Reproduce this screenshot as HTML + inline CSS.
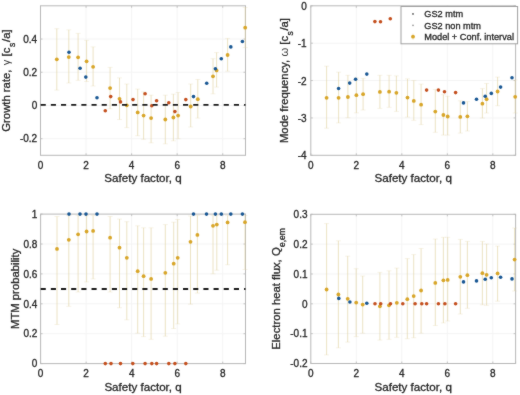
<!DOCTYPE html>
<html><head><meta charset="utf-8"><style>
html,body{margin:0;padding:0;background:#fff;width:520px;height:395px;overflow:hidden}
svg text{font-family:"Liberation Sans", sans-serif;stroke:#262626;stroke-width:0.3px;paint-order:stroke}
svg{will-change:transform}
</style></head><body>
<svg width="520" height="395" viewBox="0 0 520 395" style="display:block">
<defs><filter id="soft" x="0" y="0" width="520" height="395" filterUnits="userSpaceOnUse" color-interpolation-filters="sRGB"><feConvolveMatrix order="3" kernelMatrix="1 2 1 2 28 2 1 2 1" edgeMode="duplicate"/></filter></defs>
<g filter="url(#soft)">
<rect width="520" height="395" fill="#fff"/>
<path d="M86.06 5.80V155.30M131.61 5.80V155.30M177.17 5.80V155.30M222.72 5.80V155.30M40.50 138.69H245.50M40.50 105.47H245.50M40.50 72.24H245.50M40.50 39.02H245.50" stroke="#f4f4f4" stroke-width="1" fill="none"/>
<path d="M40.50 155.30v-2.0M40.50 5.80v2.0M86.06 155.30v-2.0M86.06 5.80v2.0M131.61 155.30v-2.0M131.61 5.80v2.0M177.17 155.30v-2.0M177.17 5.80v2.0M222.72 155.30v-2.0M222.72 5.80v2.0M245.50 155.30v-2.0M245.50 5.80v2.0M40.50 138.69h2.0M245.50 138.69h-2.0M40.50 105.47h2.0M245.50 105.47h-2.0M40.50 72.24h2.0M245.50 72.24h-2.0M40.50 39.02h2.0M245.50 39.02h-2.0" stroke="#b8b8b8" stroke-width="0.8" fill="none"/>
<rect x="40.50" y="5.80" width="205.00" height="149.50" fill="none" stroke="#b8b8b8" stroke-width="1"/>
<path d="M56.80 28.70V90.10M68.80 29.90V83.00M78.10 33.40V80.30M86.60 40.40V81.50M93.10 46.90V86.00M110.10 67.40V108.80M119.50 77.90V119.50M126.80 84.00V127.60M137.70 89.10V135.70M143.60 91.90V139.30M151.10 95.20V142.80M165.30 95.20V143.80M173.40 94.20V140.80M178.10 92.50V138.70M190.70 84.00V127.00M197.80 79.50V118.10M213.00 58.70V93.80M216.60 52.60V87.10M227.60 38.40V71.20M245.20 7.50V47.60" stroke="#e2d3a4" stroke-width="0.65" fill="none"/>
<path d="M54.30 28.70h5M54.30 90.10h5M66.30 29.90h5M66.30 83.00h5M75.60 33.40h5M75.60 80.30h5M84.10 40.40h5M84.10 81.50h5M90.60 46.90h5M90.60 86.00h5M107.60 67.40h5M107.60 108.80h5M117.00 77.90h5M117.00 119.50h5M124.30 84.00h5M124.30 127.60h5M135.20 89.10h5M135.20 135.70h5M141.10 91.90h5M141.10 139.30h5M148.60 95.20h5M148.60 142.80h5M162.80 95.20h5M162.80 143.80h5M170.90 94.20h5M170.90 140.80h5M175.60 92.50h5M175.60 138.70h5M188.20 84.00h5M188.20 127.00h5M195.30 79.50h5M195.30 118.10h5M210.50 58.70h5M210.50 93.80h5M214.10 52.60h5M214.10 87.10h5M225.10 38.40h5M225.10 71.20h5M242.70 7.50h5M242.70 47.60h5" stroke="#e2d3a4" stroke-width="0.6" fill="none" opacity="0.45"/>
<circle cx="56.80" cy="59.30" r="1.9" fill="#d8a62a"/>
<circle cx="68.80" cy="57.10" r="1.9" fill="#d8a62a"/>
<circle cx="78.10" cy="57.30" r="1.9" fill="#d8a62a"/>
<circle cx="86.60" cy="61.30" r="1.9" fill="#d8a62a"/>
<circle cx="93.10" cy="66.80" r="1.9" fill="#d8a62a"/>
<circle cx="110.10" cy="88.10" r="1.9" fill="#d8a62a"/>
<circle cx="119.50" cy="98.80" r="1.9" fill="#d8a62a"/>
<circle cx="126.80" cy="105.30" r="1.9" fill="#d8a62a"/>
<circle cx="137.70" cy="112.40" r="1.9" fill="#d8a62a"/>
<circle cx="143.60" cy="115.60" r="1.9" fill="#d8a62a"/>
<circle cx="151.10" cy="118.10" r="1.9" fill="#d8a62a"/>
<circle cx="165.30" cy="119.50" r="1.9" fill="#d8a62a"/>
<circle cx="173.40" cy="117.50" r="1.9" fill="#d8a62a"/>
<circle cx="178.10" cy="115.60" r="1.9" fill="#d8a62a"/>
<circle cx="190.70" cy="106.50" r="1.9" fill="#d8a62a"/>
<circle cx="197.80" cy="99.20" r="1.9" fill="#d8a62a"/>
<circle cx="213.00" cy="76.30" r="1.9" fill="#d8a62a"/>
<circle cx="216.60" cy="70.40" r="1.9" fill="#d8a62a"/>
<circle cx="227.60" cy="55.00" r="1.9" fill="#d8a62a"/>
<circle cx="245.20" cy="27.70" r="1.9" fill="#d8a62a"/>
<circle cx="105.30" cy="110.80" r="1.8" fill="#c4501f"/>
<circle cx="110.70" cy="96.60" r="1.8" fill="#c4501f"/>
<circle cx="120.50" cy="101.90" r="1.8" fill="#c4501f"/>
<circle cx="133.00" cy="99.60" r="1.8" fill="#c4501f"/>
<circle cx="145.10" cy="93.80" r="1.8" fill="#c4501f"/>
<circle cx="151.80" cy="105.70" r="1.8" fill="#c4501f"/>
<circle cx="156.60" cy="100.70" r="1.8" fill="#c4501f"/>
<circle cx="168.80" cy="102.70" r="1.8" fill="#c4501f"/>
<circle cx="174.90" cy="111.60" r="1.8" fill="#c4501f"/>
<circle cx="185.80" cy="99.60" r="1.8" fill="#c4501f"/>
<circle cx="69.00" cy="52.20" r="1.8" fill="#1a5894"/>
<circle cx="80.10" cy="68.20" r="1.8" fill="#1a5894"/>
<circle cx="85.80" cy="77.10" r="1.8" fill="#1a5894"/>
<circle cx="97.00" cy="97.80" r="1.8" fill="#1a5894"/>
<circle cx="193.50" cy="96.60" r="1.8" fill="#1a5894"/>
<circle cx="206.70" cy="83.30" r="1.8" fill="#1a5894"/>
<circle cx="215.40" cy="68.80" r="1.8" fill="#1a5894"/>
<circle cx="221.30" cy="58.70" r="1.8" fill="#1a5894"/>
<circle cx="230.80" cy="46.90" r="1.8" fill="#1a5894"/>
<circle cx="242.40" cy="41.50" r="1.8" fill="#1a5894"/>
<line x1="40.67" y1="104.9" x2="245.5" y2="104.9" stroke="#1a1a1a" stroke-width="1.9" stroke-dasharray="5.1 5.07"/>
<text x="40.50" y="168.50" text-anchor="middle" font-size="10" fill="#262626">0</text>
<text x="86.06" y="168.50" text-anchor="middle" font-size="10" fill="#262626">2</text>
<text x="131.61" y="168.50" text-anchor="middle" font-size="10" fill="#262626">4</text>
<text x="177.17" y="168.50" text-anchor="middle" font-size="10" fill="#262626">6</text>
<text x="222.72" y="168.50" text-anchor="middle" font-size="10" fill="#262626">8</text>
<text x="37.20" y="142.39" text-anchor="end" font-size="10" fill="#262626">-0.2</text>
<text x="37.20" y="109.17" text-anchor="end" font-size="10" fill="#262626">0</text>
<text x="37.20" y="75.94" text-anchor="end" font-size="10" fill="#262626">0.2</text>
<text x="37.20" y="42.72" text-anchor="end" font-size="10" fill="#262626">0.4</text>
<text x="143.00" y="182.30" text-anchor="middle" font-size="11.6" fill="#262626">Safety factor, q</text>
<text transform="translate(9.80 80.55) rotate(-90)" x="0" y="0" text-anchor="middle" font-size="11.3" fill="#262626">Growth rate, <tspan dx="1.2" fill="#3a3a3a" style="stroke-width:0">γ</tspan> [c<tspan font-size="8.5" dx="0.6" dy="5.3">s</tspan><tspan dx="0.8" dy="-5.3">/a]</tspan></text>
<path d="M356.31 5.80V155.30M401.82 5.80V155.30M447.33 5.80V155.30M492.84 5.80V155.30M310.80 117.93H515.60M310.80 80.55H515.60M310.80 43.18H515.60" stroke="#f4f4f4" stroke-width="1" fill="none"/>
<path d="M310.80 155.30v-2.0M310.80 5.80v2.0M356.31 155.30v-2.0M356.31 5.80v2.0M401.82 155.30v-2.0M401.82 5.80v2.0M447.33 155.30v-2.0M447.33 5.80v2.0M492.84 155.30v-2.0M492.84 5.80v2.0M515.60 155.30v-2.0M515.60 5.80v2.0M310.80 155.30h2.0M515.60 155.30h-2.0M310.80 117.93h2.0M515.60 117.93h-2.0M310.80 80.55h2.0M515.60 80.55h-2.0M310.80 43.18h2.0M515.60 43.18h-2.0M310.80 5.80h2.0M515.60 5.80h-2.0" stroke="#b8b8b8" stroke-width="0.8" fill="none"/>
<rect x="310.80" y="5.80" width="204.80" height="149.50" fill="none" stroke="#b8b8b8" stroke-width="1"/>
<path d="M326.60 66.20V128.20M338.60 72.20V122.90M347.90 75.30V117.70M356.40 77.90V112.80M363.10 78.40V110.00M379.90 75.30V108.40M389.10 75.30V107.30M396.40 75.90V111.40M407.50 78.90V117.10M413.80 80.50V120.30M421.10 84.10V124.60M435.30 89.60V132.30M443.40 94.70V135.10M447.70 96.30V135.10M460.30 100.80V133.10M467.40 101.60V131.00M482.40 88.60V118.10M486.60 83.50V113.00M497.60 77.10V105.70M515.20 80.00V113.00" stroke="#e2d3a4" stroke-width="0.65" fill="none"/>
<path d="M324.10 66.20h5M324.10 128.20h5M336.10 72.20h5M336.10 122.90h5M345.40 75.30h5M345.40 117.70h5M353.90 77.90h5M353.90 112.80h5M360.60 78.40h5M360.60 110.00h5M377.40 75.30h5M377.40 108.40h5M386.60 75.30h5M386.60 107.30h5M393.90 75.90h5M393.90 111.40h5M405.00 78.90h5M405.00 117.10h5M411.30 80.50h5M411.30 120.30h5M418.60 84.10h5M418.60 124.60h5M432.80 89.60h5M432.80 132.30h5M440.90 94.70h5M440.90 135.10h5M445.20 96.30h5M445.20 135.10h5M457.80 100.80h5M457.80 133.10h5M464.90 101.60h5M464.90 131.00h5M479.90 88.60h5M479.90 118.10h5M484.10 83.50h5M484.10 113.00h5M495.10 77.10h5M495.10 105.70h5M512.70 80.00h5M512.70 113.00h5" stroke="#e2d3a4" stroke-width="0.6" fill="none" opacity="0.45"/>
<circle cx="326.60" cy="97.80" r="1.9" fill="#d8a62a"/>
<circle cx="338.60" cy="97.80" r="1.9" fill="#d8a62a"/>
<circle cx="347.90" cy="97.00" r="1.9" fill="#d8a62a"/>
<circle cx="356.40" cy="95.20" r="1.9" fill="#d8a62a"/>
<circle cx="363.10" cy="94.20" r="1.9" fill="#d8a62a"/>
<circle cx="379.90" cy="91.90" r="1.9" fill="#d8a62a"/>
<circle cx="389.10" cy="91.70" r="1.9" fill="#d8a62a"/>
<circle cx="396.40" cy="92.80" r="1.9" fill="#d8a62a"/>
<circle cx="407.50" cy="97.60" r="1.9" fill="#d8a62a"/>
<circle cx="413.80" cy="100.90" r="1.9" fill="#d8a62a"/>
<circle cx="421.10" cy="104.70" r="1.9" fill="#d8a62a"/>
<circle cx="435.30" cy="111.60" r="1.9" fill="#d8a62a"/>
<circle cx="443.40" cy="115.00" r="1.9" fill="#d8a62a"/>
<circle cx="447.70" cy="116.50" r="1.9" fill="#d8a62a"/>
<circle cx="460.30" cy="116.90" r="1.9" fill="#d8a62a"/>
<circle cx="467.40" cy="116.30" r="1.9" fill="#d8a62a"/>
<circle cx="482.40" cy="103.70" r="1.9" fill="#d8a62a"/>
<circle cx="486.60" cy="99.20" r="1.9" fill="#d8a62a"/>
<circle cx="497.60" cy="91.50" r="1.9" fill="#d8a62a"/>
<circle cx="515.20" cy="96.80" r="1.9" fill="#d8a62a"/>
<circle cx="374.90" cy="21.60" r="1.8" fill="#c4501f"/>
<circle cx="380.50" cy="21.80" r="1.8" fill="#c4501f"/>
<circle cx="390.30" cy="18.80" r="1.8" fill="#c4501f"/>
<circle cx="402.70" cy="22.00" r="1.8" fill="#c4501f"/>
<circle cx="415.00" cy="22.00" r="1.8" fill="#c4501f"/>
<circle cx="421.60" cy="22.00" r="1.8" fill="#c4501f"/>
<circle cx="426.60" cy="90.10" r="1.8" fill="#c4501f"/>
<circle cx="438.40" cy="90.10" r="1.8" fill="#c4501f"/>
<circle cx="444.50" cy="91.70" r="1.8" fill="#c4501f"/>
<circle cx="455.60" cy="92.60" r="1.8" fill="#c4501f"/>
<circle cx="338.60" cy="88.50" r="1.8" fill="#1a5894"/>
<circle cx="349.70" cy="83.10" r="1.8" fill="#1a5894"/>
<circle cx="355.60" cy="79.30" r="1.8" fill="#1a5894"/>
<circle cx="366.80" cy="74.10" r="1.8" fill="#1a5894"/>
<circle cx="463.50" cy="102.90" r="1.8" fill="#1a5894"/>
<circle cx="476.50" cy="99.20" r="1.8" fill="#1a5894"/>
<circle cx="485.20" cy="96.20" r="1.8" fill="#1a5894"/>
<circle cx="491.30" cy="93.40" r="1.8" fill="#1a5894"/>
<circle cx="500.60" cy="87.10" r="1.8" fill="#1a5894"/>
<circle cx="512.00" cy="77.70" r="1.8" fill="#1a5894"/>
<text x="310.80" y="168.50" text-anchor="middle" font-size="10" fill="#262626">0</text>
<text x="356.31" y="168.50" text-anchor="middle" font-size="10" fill="#262626">2</text>
<text x="401.82" y="168.50" text-anchor="middle" font-size="10" fill="#262626">4</text>
<text x="447.33" y="168.50" text-anchor="middle" font-size="10" fill="#262626">6</text>
<text x="492.84" y="168.50" text-anchor="middle" font-size="10" fill="#262626">8</text>
<text x="306.70" y="159.40" text-anchor="end" font-size="10" fill="#262626">-4</text>
<text x="306.70" y="122.03" text-anchor="end" font-size="10" fill="#262626">-3</text>
<text x="306.70" y="84.65" text-anchor="end" font-size="10" fill="#262626">-2</text>
<text x="306.70" y="47.28" text-anchor="end" font-size="10" fill="#262626">-1</text>
<text x="306.70" y="9.90" text-anchor="end" font-size="10" fill="#262626">0</text>
<text x="413.20" y="182.30" text-anchor="middle" font-size="11.6" fill="#262626">Safety factor, q</text>
<text transform="translate(288.00 80.55) rotate(-90)" x="0" y="0" text-anchor="middle" font-size="11.3" fill="#262626">Mode frequency, <tspan fill="#3a3a3a" style="stroke-width:0">ω</tspan> [c<tspan font-size="8.5" dx="0.4" dy="5.3">s</tspan><tspan dx="0.6" dy="-5.3">/a]</tspan></text>
<path d="M86.13 214.10V363.60M131.67 214.10V363.60M177.20 214.10V363.60M222.73 214.10V363.60M40.60 333.70H245.50M40.60 303.80H245.50M40.60 273.90H245.50M40.60 244.00H245.50" stroke="#f4f4f4" stroke-width="1" fill="none"/>
<path d="M40.60 363.60v-2.0M40.60 214.10v2.0M86.13 363.60v-2.0M86.13 214.10v2.0M131.67 363.60v-2.0M131.67 214.10v2.0M177.20 363.60v-2.0M177.20 214.10v2.0M222.73 363.60v-2.0M222.73 214.10v2.0M245.50 363.60v-2.0M245.50 214.10v2.0M40.60 363.60h2.0M245.50 363.60h-2.0M40.60 333.70h2.0M245.50 333.70h-2.0M40.60 303.80h2.0M245.50 303.80h-2.0M40.60 273.90h2.0M245.50 273.90h-2.0M40.60 244.00h2.0M245.50 244.00h-2.0M40.60 214.10h2.0M245.50 214.10h-2.0" stroke="#b8b8b8" stroke-width="0.8" fill="none"/>
<rect x="40.60" y="214.10" width="204.90" height="149.50" fill="none" stroke="#b8b8b8" stroke-width="1"/>
<path d="M57.00 216.50V324.50M68.80 215.50V306.30M78.10 215.50V292.00M86.60 215.50V281.90M93.10 215.50V278.90M110.10 216.50V292.00M119.50 219.10V307.70M126.80 221.70V319.80M137.70 225.80V333.20M143.60 227.80V336.60M151.10 227.80V339.30M165.30 224.60V336.20M173.70 222.20V328.50M177.70 219.50V323.90M190.50 216.00V304.20M197.40 215.50V293.10M213.00 215.50V273.80M216.80 215.50V270.20M227.60 215.50V264.70M245.00 215.50V269.50" stroke="#e2d3a4" stroke-width="0.65" fill="none"/>
<path d="M54.50 216.50h5M54.50 324.50h5M66.30 215.50h5M66.30 306.30h5M75.60 215.50h5M75.60 292.00h5M84.10 215.50h5M84.10 281.90h5M90.60 215.50h5M90.60 278.90h5M107.60 216.50h5M107.60 292.00h5M117.00 219.10h5M117.00 307.70h5M124.30 221.70h5M124.30 319.80h5M135.20 225.80h5M135.20 333.20h5M141.10 227.80h5M141.10 336.60h5M148.60 227.80h5M148.60 339.30h5M162.80 224.60h5M162.80 336.20h5M171.20 222.20h5M171.20 328.50h5M175.20 219.50h5M175.20 323.90h5M188.00 216.00h5M188.00 304.20h5M194.90 215.50h5M194.90 293.10h5M210.50 215.50h5M210.50 273.80h5M214.30 215.50h5M214.30 270.20h5M225.10 215.50h5M225.10 264.70h5M242.50 215.50h5M242.50 269.50h5" stroke="#e2d3a4" stroke-width="0.6" fill="none" opacity="0.45"/>
<circle cx="57.00" cy="248.90" r="1.9" fill="#d8a62a"/>
<circle cx="68.80" cy="239.80" r="1.9" fill="#d8a62a"/>
<circle cx="78.10" cy="234.30" r="1.9" fill="#d8a62a"/>
<circle cx="86.60" cy="231.50" r="1.9" fill="#d8a62a"/>
<circle cx="93.10" cy="230.90" r="1.9" fill="#d8a62a"/>
<circle cx="110.10" cy="237.70" r="1.9" fill="#d8a62a"/>
<circle cx="119.50" cy="247.70" r="1.9" fill="#d8a62a"/>
<circle cx="126.80" cy="257.80" r="1.9" fill="#d8a62a"/>
<circle cx="137.70" cy="271.20" r="1.9" fill="#d8a62a"/>
<circle cx="143.60" cy="276.20" r="1.9" fill="#d8a62a"/>
<circle cx="151.10" cy="278.90" r="1.9" fill="#d8a62a"/>
<circle cx="165.30" cy="272.80" r="1.9" fill="#d8a62a"/>
<circle cx="173.70" cy="263.70" r="1.9" fill="#d8a62a"/>
<circle cx="177.70" cy="257.80" r="1.9" fill="#d8a62a"/>
<circle cx="190.50" cy="241.80" r="1.9" fill="#d8a62a"/>
<circle cx="197.40" cy="234.90" r="1.9" fill="#d8a62a"/>
<circle cx="213.00" cy="225.80" r="1.9" fill="#d8a62a"/>
<circle cx="216.80" cy="224.60" r="1.9" fill="#d8a62a"/>
<circle cx="227.60" cy="222.40" r="1.9" fill="#d8a62a"/>
<circle cx="245.00" cy="222.20" r="1.9" fill="#d8a62a"/>
<circle cx="105.30" cy="363.60" r="1.8" fill="#c4501f"/>
<circle cx="111.00" cy="363.60" r="1.8" fill="#c4501f"/>
<circle cx="120.50" cy="363.60" r="1.8" fill="#c4501f"/>
<circle cx="132.80" cy="363.60" r="1.8" fill="#c4501f"/>
<circle cx="145.10" cy="363.60" r="1.8" fill="#c4501f"/>
<circle cx="151.80" cy="363.60" r="1.8" fill="#c4501f"/>
<circle cx="156.60" cy="363.60" r="1.8" fill="#c4501f"/>
<circle cx="168.80" cy="363.60" r="1.8" fill="#c4501f"/>
<circle cx="174.90" cy="363.60" r="1.8" fill="#c4501f"/>
<circle cx="185.80" cy="363.60" r="1.8" fill="#c4501f"/>
<circle cx="69.00" cy="214.10" r="1.8" fill="#1a5894"/>
<circle cx="80.00" cy="214.10" r="1.8" fill="#1a5894"/>
<circle cx="86.00" cy="214.10" r="1.8" fill="#1a5894"/>
<circle cx="97.00" cy="214.10" r="1.8" fill="#1a5894"/>
<circle cx="193.50" cy="214.10" r="1.8" fill="#1a5894"/>
<circle cx="206.50" cy="214.10" r="1.8" fill="#1a5894"/>
<circle cx="215.40" cy="214.10" r="1.8" fill="#1a5894"/>
<circle cx="221.30" cy="214.10" r="1.8" fill="#1a5894"/>
<circle cx="230.80" cy="214.10" r="1.8" fill="#1a5894"/>
<circle cx="242.40" cy="214.10" r="1.8" fill="#1a5894"/>
<line x1="40.67" y1="289.0" x2="245.5" y2="289.0" stroke="#1a1a1a" stroke-width="1.9" stroke-dasharray="5.1 5.07"/>
<text x="40.60" y="376.80" text-anchor="middle" font-size="10" fill="#262626">0</text>
<text x="86.13" y="376.80" text-anchor="middle" font-size="10" fill="#262626">2</text>
<text x="131.67" y="376.80" text-anchor="middle" font-size="10" fill="#262626">4</text>
<text x="177.20" y="376.80" text-anchor="middle" font-size="10" fill="#262626">6</text>
<text x="222.73" y="376.80" text-anchor="middle" font-size="10" fill="#262626">8</text>
<text x="37.30" y="367.30" text-anchor="end" font-size="10" fill="#262626">0</text>
<text x="37.30" y="337.40" text-anchor="end" font-size="10" fill="#262626">0.2</text>
<text x="37.30" y="307.50" text-anchor="end" font-size="10" fill="#262626">0.4</text>
<text x="37.30" y="277.60" text-anchor="end" font-size="10" fill="#262626">0.6</text>
<text x="37.30" y="247.70" text-anchor="end" font-size="10" fill="#262626">0.8</text>
<text x="37.30" y="217.80" text-anchor="end" font-size="10" fill="#262626">1</text>
<text x="143.05" y="390.60" text-anchor="middle" font-size="11.6" fill="#262626">Safety factor, q</text>
<text transform="translate(18.90 288.85) rotate(-90)" x="0" y="0" text-anchor="middle" font-size="11.3" fill="#262626">MTM probability</text>
<path d="M356.31 214.30V363.50M401.82 214.30V363.50M447.33 214.30V363.50M492.84 214.30V363.50M310.80 333.66H515.60M310.80 303.82H515.60M310.80 273.98H515.60M310.80 244.14H515.60" stroke="#f4f4f4" stroke-width="1" fill="none"/>
<path d="M310.80 363.50v-2.0M310.80 214.30v2.0M356.31 363.50v-2.0M356.31 214.30v2.0M401.82 363.50v-2.0M401.82 214.30v2.0M447.33 363.50v-2.0M447.33 214.30v2.0M492.84 363.50v-2.0M492.84 214.30v2.0M515.60 363.50v-2.0M515.60 214.30v2.0M310.80 363.50h2.0M515.60 363.50h-2.0M310.80 333.66h2.0M515.60 333.66h-2.0M310.80 303.82h2.0M515.60 303.82h-2.0M310.80 273.98h2.0M515.60 273.98h-2.0M310.80 244.14h2.0M515.60 244.14h-2.0M310.80 214.30h2.0M515.60 214.30h-2.0" stroke="#b8b8b8" stroke-width="0.8" fill="none"/>
<rect x="310.80" y="214.30" width="204.80" height="149.20" fill="none" stroke="#b8b8b8" stroke-width="1"/>
<path d="M326.60 223.60V354.90M338.40 240.80V347.80M347.70 256.20V342.10M356.20 268.70V336.60M362.70 276.00V333.20M379.90 272.40V340.10M389.00 270.80V339.30M396.80 268.10V337.30M407.30 258.60V338.70M413.70 254.60V337.70M421.10 248.50V333.20M435.30 239.00V325.50M443.40 237.30V322.90M447.70 237.30V321.00M460.30 239.40V314.00M467.40 241.40V308.30M482.40 241.40V304.80M486.60 244.00V305.30M497.60 246.10V301.20M514.60 228.00V291.00" stroke="#e2d3a4" stroke-width="0.65" fill="none"/>
<path d="M324.10 223.60h5M324.10 354.90h5M335.90 240.80h5M335.90 347.80h5M345.20 256.20h5M345.20 342.10h5M353.70 268.70h5M353.70 336.60h5M360.20 276.00h5M360.20 333.20h5M377.40 272.40h5M377.40 340.10h5M386.50 270.80h5M386.50 339.30h5M394.30 268.10h5M394.30 337.30h5M404.80 258.60h5M404.80 338.70h5M411.20 254.60h5M411.20 337.70h5M418.60 248.50h5M418.60 333.20h5M432.80 239.00h5M432.80 325.50h5M440.90 237.30h5M440.90 322.90h5M445.20 237.30h5M445.20 321.00h5M457.80 239.40h5M457.80 314.00h5M464.90 241.40h5M464.90 308.30h5M479.90 241.40h5M479.90 304.80h5M484.10 244.00h5M484.10 305.30h5M495.10 246.10h5M495.10 301.20h5M512.10 228.00h5M512.10 291.00h5" stroke="#e2d3a4" stroke-width="0.6" fill="none" opacity="0.45"/>
<circle cx="326.60" cy="289.50" r="1.9" fill="#d8a62a"/>
<circle cx="338.40" cy="294.50" r="1.9" fill="#d8a62a"/>
<circle cx="347.70" cy="298.80" r="1.9" fill="#d8a62a"/>
<circle cx="356.20" cy="302.60" r="1.9" fill="#d8a62a"/>
<circle cx="362.70" cy="304.60" r="1.9" fill="#d8a62a"/>
<circle cx="379.90" cy="306.30" r="1.9" fill="#d8a62a"/>
<circle cx="389.00" cy="305.30" r="1.9" fill="#d8a62a"/>
<circle cx="396.80" cy="302.80" r="1.9" fill="#d8a62a"/>
<circle cx="407.30" cy="299.20" r="1.9" fill="#d8a62a"/>
<circle cx="413.70" cy="296.10" r="1.9" fill="#d8a62a"/>
<circle cx="421.10" cy="290.50" r="1.9" fill="#d8a62a"/>
<circle cx="435.30" cy="282.90" r="1.9" fill="#d8a62a"/>
<circle cx="443.40" cy="280.30" r="1.9" fill="#d8a62a"/>
<circle cx="447.70" cy="279.90" r="1.9" fill="#d8a62a"/>
<circle cx="460.30" cy="276.80" r="1.9" fill="#d8a62a"/>
<circle cx="467.40" cy="275.20" r="1.9" fill="#d8a62a"/>
<circle cx="482.40" cy="273.20" r="1.9" fill="#d8a62a"/>
<circle cx="486.60" cy="274.80" r="1.9" fill="#d8a62a"/>
<circle cx="497.60" cy="273.40" r="1.9" fill="#d8a62a"/>
<circle cx="514.60" cy="259.60" r="1.9" fill="#d8a62a"/>
<circle cx="375.00" cy="303.70" r="1.8" fill="#c4501f"/>
<circle cx="380.70" cy="303.70" r="1.8" fill="#c4501f"/>
<circle cx="390.50" cy="303.70" r="1.8" fill="#c4501f"/>
<circle cx="402.80" cy="303.70" r="1.8" fill="#c4501f"/>
<circle cx="415.10" cy="303.70" r="1.8" fill="#c4501f"/>
<circle cx="421.80" cy="303.70" r="1.8" fill="#c4501f"/>
<circle cx="426.60" cy="303.70" r="1.8" fill="#c4501f"/>
<circle cx="438.40" cy="303.70" r="1.8" fill="#c4501f"/>
<circle cx="444.90" cy="303.70" r="1.8" fill="#c4501f"/>
<circle cx="455.60" cy="303.70" r="1.8" fill="#c4501f"/>
<circle cx="338.80" cy="298.40" r="1.8" fill="#1a5894"/>
<circle cx="349.90" cy="302.00" r="1.8" fill="#1a5894"/>
<circle cx="366.80" cy="303.20" r="1.8" fill="#1a5894"/>
<circle cx="463.50" cy="281.90" r="1.8" fill="#1a5894"/>
<circle cx="476.50" cy="280.90" r="1.8" fill="#1a5894"/>
<circle cx="485.20" cy="279.30" r="1.8" fill="#1a5894"/>
<circle cx="491.30" cy="277.80" r="1.8" fill="#1a5894"/>
<circle cx="500.60" cy="277.20" r="1.8" fill="#1a5894"/>
<circle cx="512.00" cy="278.90" r="1.8" fill="#1a5894"/>
<text x="310.80" y="376.70" text-anchor="middle" font-size="10" fill="#262626">0</text>
<text x="356.31" y="376.70" text-anchor="middle" font-size="10" fill="#262626">2</text>
<text x="401.82" y="376.70" text-anchor="middle" font-size="10" fill="#262626">4</text>
<text x="447.33" y="376.70" text-anchor="middle" font-size="10" fill="#262626">6</text>
<text x="492.84" y="376.70" text-anchor="middle" font-size="10" fill="#262626">8</text>
<text x="307.50" y="367.20" text-anchor="end" font-size="10" fill="#262626">-0.2</text>
<text x="307.50" y="337.36" text-anchor="end" font-size="10" fill="#262626">-0.1</text>
<text x="307.50" y="307.52" text-anchor="end" font-size="10" fill="#262626">0</text>
<text x="307.50" y="277.68" text-anchor="end" font-size="10" fill="#262626">0.1</text>
<text x="307.50" y="247.84" text-anchor="end" font-size="10" fill="#262626">0.2</text>
<text x="307.50" y="218.00" text-anchor="end" font-size="10" fill="#262626">0.3</text>
<text x="413.20" y="390.50" text-anchor="middle" font-size="11.6" fill="#262626">Safety factor, q</text>
<text transform="translate(280.20 288.90) rotate(-90)" x="0" y="0" text-anchor="middle" font-size="11.3" fill="#262626">Electron heat flux, Q<tspan font-size="8.5" dx="0.3" dy="5.0">e,em</tspan></text>
<rect x="401" y="6.5" width="116.6" height="37.3" fill="#fff" stroke="#a0a0a0" stroke-width="1"/>
<circle cx="413" cy="13.9" r="0.9" fill="#555"/>
<circle cx="413" cy="25.3" r="0.9" fill="#999"/>
<path d="M413 33.5V40" stroke="#e2d3a4" stroke-width="0.8" opacity="0.6"/>
<circle cx="413" cy="36.7" r="1.9" fill="#d8a62a"/>
<text x="424.3" y="17.20" font-size="9.2" fill="#262626">GS2 mtm</text>
<text x="424.3" y="28.60" font-size="9.2" fill="#262626">GS2 non mtm</text>
<text x="424.3" y="40.00" font-size="9.2" fill="#262626">Model + Conf. interval</text>
</g>
</svg>
</body></html>
